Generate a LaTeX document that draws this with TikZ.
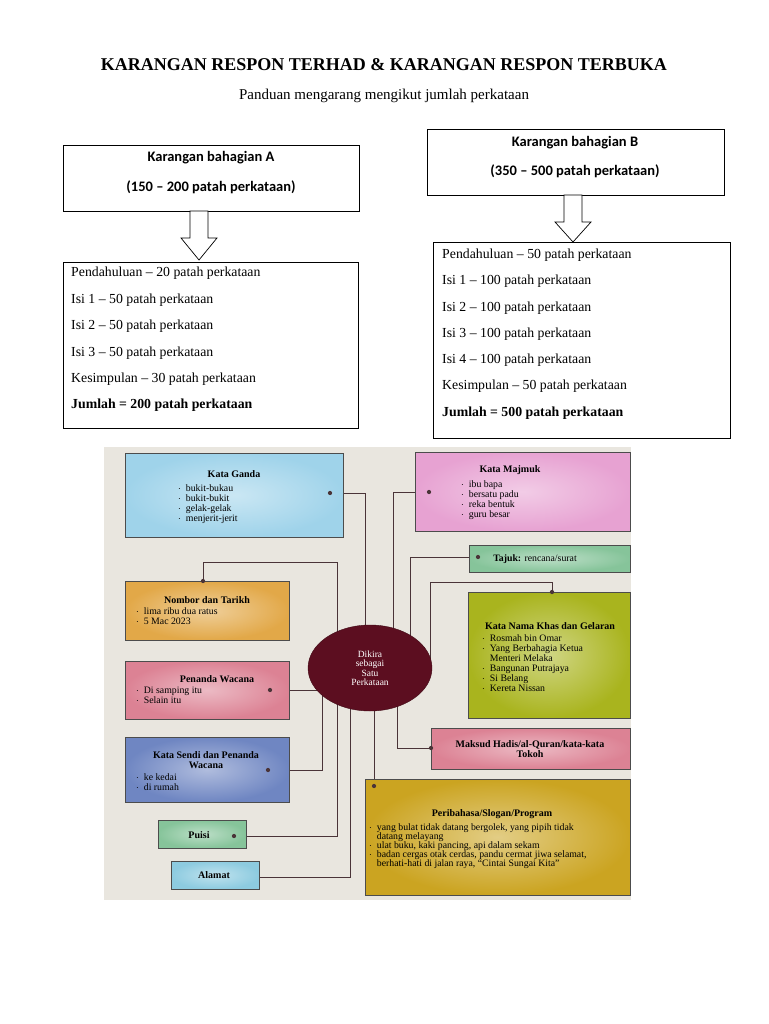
\documentclass[tikz,border=0pt]{standalone}
\usepackage{fontspec}
\setmainfont{Liberation Serif}
\newfontfamily\carl{Carlito}
\usetikzlibrary{shapes.geometric}
\definecolor{cBlue}{HTML}{9FD3EA}
\definecolor{cPink}{HTML}{E7A2D2}
\definecolor{cGreen}{HTML}{86C49A}
\definecolor{cOlive}{HTML}{A9B41E}
\definecolor{cOrange}{HTML}{E2A848}
\definecolor{cRose}{HTML}{DC8294}
\definecolor{cNavy}{HTML}{6F86C2}
\definecolor{cSky}{HTML}{8DCBE0}
\definecolor{cGold}{HTML}{CBA421}
\definecolor{cMaroon}{HTML}{5C0E20}
\definecolor{cBg}{HTML}{E9E6DF}
\definecolor{cLine}{HTML}{4A3438}
\tikzset{
  outbox/.style={draw=black, line width=0.7pt, fill=white},
  panel/.style={inner color=white!45!#1, outer color=#1, draw=black!70, line width=0.6pt},
  conn/.style={draw=cLine, line width=0.8pt},
  dotc/.style={circle, fill=cLine, inner sep=1.5pt},
  ltxt/.style={anchor=west, font=\fontsize{13.8}{15}\selectfont, inner sep=0},
  btxt/.style={font=\carl\bfseries\fontsize{14.5}{16}\selectfont},
  ptitle/.style={font=\bfseries\fontsize{10}{10}\selectfont, inner sep=0},
  plist/.style={anchor=north west, font=\fontsize{9.8}{10}\selectfont, align=left, inner sep=0},
  hollow/.style={draw=black, line width=0.7pt, fill=white}
}
\begin{document}
\begin{tikzpicture}[x=1pt,y=-1pt]
\useasboundingbox (0,0) rectangle (768,1024);
\fill[white] (0,0) rectangle (768,1024);
% titles
\node (title) at (384,65) {\bfseries\fontsize{18}{20}\selectfont KARANGAN RESPON TERHAD \& KARANGAN RESPON TERBUKA};
\node (sub) at (384,96) {\fontsize{15}{17}\selectfont Panduan mengarang mengikut jumlah perkataan};
% box A / B
\draw[outbox] (63,145) rectangle (359,211);
\node[btxt] (a1) at (211,158) {Karangan bahagian A};
\node[btxt] (a2) at (211,187) {(150 – 200 patah perkataan)};
\draw[outbox] (427,129) rectangle (724,195);
\node[btxt] (b1) at (575,143) {Karangan bahagian B};
\node[btxt] (b2) at (575,171) {(350 – 500 patah perkataan)};
% hollow arrows
\draw[hollow] (190,211) -- (208,211) -- (208,238) -- (217,238) -- (199,260) -- (181,238) -- (190,238) -- cycle;
\draw[hollow] (564,195) -- (582,195) -- (582,222) -- (591,222) -- (573,242) -- (555,222) -- (564,222) -- cycle;
% list A
\draw[outbox] (63,262) rectangle (358,428);
\node[ltxt] (la1) at (71,273) {Pendahuluan – 20 patah perkataan};
\node[ltxt] (la2) at (71,300) {Isi 1 – 50 patah perkataan};
\node[ltxt] (la3) at (71,326) {Isi 2 – 50 patah perkataan};
\node[ltxt] (la4) at (71,353) {Isi 3 – 50 patah perkataan};
\node[ltxt] (la5) at (71,379) {Kesimpulan – 30 patah perkataan};
\node[ltxt,font=\bfseries\fontsize{13.8}{15}\selectfont] (la6) at (71,405) {Jumlah = 200 patah perkataan};
% list B
\draw[outbox] (433,242) rectangle (730,438);
\node[ltxt] (lb1) at (442,255) {Pendahuluan – 50 patah perkataan};
\node[ltxt] (lb2) at (442,281) {Isi 1 – 100 patah perkataan};
\node[ltxt] (lb3) at (442,308) {Isi 2 – 100 patah perkataan};
\node[ltxt] (lb4) at (442,334) {Isi 3 – 100 patah perkataan};
\node[ltxt] (lb5) at (442,360) {Isi 4 – 100 patah perkataan};
\node[ltxt] (lb6) at (442,386) {Kesimpulan – 50 patah perkataan};
\node[ltxt,font=\bfseries\fontsize{13.8}{15}\selectfont] (lb7) at (442,413) {Jumlah = 500 patah perkataan};
% lower picture background
\fill[cBg] (104,447) rectangle (631,900);
% connector points
\coordinate (e1) at (365,640);
\coordinate (e2) at (393,640);
\coordinate (e3) at (410,660);
\coordinate (e4) at (430,670);
\coordinate (e5) at (337,650);
\coordinate (e6) at (330,690);
\coordinate (e7) at (322,695);
\coordinate (e8) at (337,700);
\coordinate (e9) at (350,700);
\coordinate (e10) at (397,700);
\coordinate (e11) at (374,700);
\coordinate (dGanda) at (330,493);
\coordinate (dMaj) at (429,492);
\coordinate (dTaj) at (478,557);
\coordinate (dNama) at (552,592);
\coordinate (dNom) at (203,581);
\coordinate (dPen) at (270,690);
\coordinate (dSen) at (268,770);
\coordinate (dPui) at (234,836);
\coordinate (dAla) at (259,877);
\coordinate (dMak) at (431,748);
\coordinate (dPer) at (374,786);
% connectors
\draw[conn] (dGanda) -| (e1);
\draw[conn] (dMaj) -| (e2);
\draw[conn] (dTaj) -| (e3);
\draw[conn] (dNama) -- (552,582) -| (e4);
\draw[conn] (dNom) -- (203,562) -| (e5);
\draw[conn] (dPen) -- (e6);
\draw[conn] (dSen) -| (e7);
\draw[conn] (dPui) -| (e8);
\draw[conn] (dAla) -| (e9);
\draw[conn] (dMak) -| (e10);
\draw[conn] (dPer) -- (e11);
% panels
\draw[panel=cBlue] (125,453) rectangle (343,537);
\node[ptitle] (tGanda) at (234,474) {Kata Ganda};
\node[plist] (lGanda) at (178,484) {$\cdot$\ \ bukit-bukau\\$\cdot$\ \ bukit-bukit\\$\cdot$\ \ gelak-gelak\\$\cdot$\ \ menjerit-jerit};
\draw[panel=cPink] (415,452) rectangle (630,531);
\node[ptitle] (tMaj) at (510,470) {Kata Majmuk};
\node[plist] (lMaj) at (461,480) {$\cdot$\ \ ibu bapa\\$\cdot$\ \ bersatu padu\\$\cdot$\ \ reka bentuk\\$\cdot$\ \ guru besar};
\draw[panel=cGreen] (469,545) rectangle (630,572);
\node[font=\fontsize{9.8}{10}\selectfont,inner sep=0] (tTaj) at (535,559) {\textbf{Tajuk:} rencana/surat};
\draw[panel=cOlive] (468,592) rectangle (630,718);
\node[ptitle] (tNama) at (550,626) {Kata Nama Khas dan Gelaran};
\node[plist] (lNama) at (482,634) {$\cdot$\ \ Rosmah bin Omar\\$\cdot$\ \ Yang Berbahagia Ketua\\\phantom{$\cdot$}\ \ Menteri Melaka\\$\cdot$\ \ Bangunan Putrajaya\\$\cdot$\ \ Si Belang\\$\cdot$\ \ Kereta Nissan};
\draw[panel=cOrange] (125,581) rectangle (289,640);
\node[ptitle] (tNom) at (207,600) {Nombor dan Tarikh};
\node[plist] (lNom) at (136,607) {$\cdot$\ \ lima ribu dua ratus\\$\cdot$\ \ 5 Mac 2023};
\draw[panel=cRose] (125,661) rectangle (289,719);
\node[ptitle] (tPen) at (217,679) {Penanda Wacana};
\node[plist] (lPen) at (136,687) {$\cdot$\ \ Di samping itu\\$\cdot$\ \ Selain itu};
\draw[panel=cNavy] (125,737) rectangle (289,802);
\node[ptitle,align=center] (tSen) at (206,760) {Kata Sendi dan Penanda\\Wacana};
\node[plist] (lSen) at (136,773) {$\cdot$\ \ ke kedai\\$\cdot$\ \ di rumah};
\draw[panel=cGreen] (158,820) rectangle (246,848);
\node[ptitle] (tPui) at (199,835) {Puisi};
\draw[panel=cSky] (171,861) rectangle (259,889);
\node[ptitle] (tAla) at (214,875) {Alamat};
\draw[panel=cRose] (431,728) rectangle (630,769);
\node[ptitle,align=center] (tMak) at (530,749) {Maksud Hadis/al-Quran/kata-kata\\Tokoh};
\draw[panel=cGold] (365,779) rectangle (630,895);
\node[ptitle] (tPer) at (492,814) {Peribahasa/Slogan/Program};
\node[plist,font=\fontsize{9.8}{9}\selectfont] (lPer) at (369,823) {$\cdot$\ \ yang bulat tidak datang bergolek, yang pipih tidak\\\phantom{$\cdot$}\ \ datang melayang\\$\cdot$\ \ ulat buku, kaki pancing, api dalam sekam\\$\cdot$\ \ badan cergas otak cerdas, pandu cermat jiwa selamat,\\\phantom{$\cdot$}\ \ berhati-hati di jalan raya, ``Cintai Sungai Kita''};
% dots
\foreach \d in {dGanda,dMaj,dTaj,dNama,dNom,dPen,dSen,dPui,dMak,dPer} \node[dotc] at (\d) {};
% centre ellipse
\node[ellipse, fill=cMaroon, draw=cMaroon!70!black, minimum width=124pt, minimum height=86pt, text=white, align=center, font=\fontsize{9.5}{9.5}\selectfont] (ell) at (370,668) {Dikira\\sebagai\\Satu\\Perkataan};
\end{tikzpicture}
\end{document}
